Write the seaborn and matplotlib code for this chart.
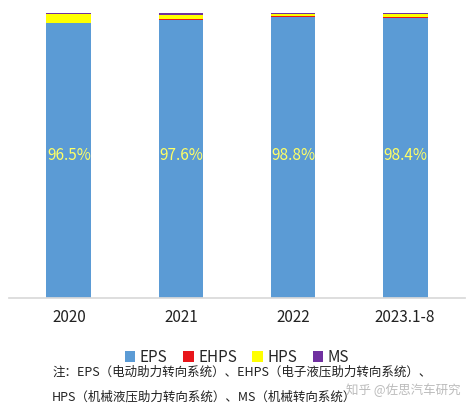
import matplotlib
matplotlib.use("Agg")
import matplotlib.pyplot as plt
import seaborn as sns
import pandas as pd
import numpy as np

years = ["2020", "2021", "2022", "2023.1-8"]
eps = [96.5, 97.6, 98.8, 98.4]
ehps = [0.2, 0.2, 0.2, 0.2]
hps = [3.1, 1.6, 0.8, 1.2]
ms = [0.2, 0.6, 0.2, 0.2]
series = ["EPS", "EHPS", "HPS", "MS"]
colors = ["#5b9bd5", "#e8161b", "#ffff00", "#7030a0"]

sns.set_theme(style="white")
plt.rcParams['font.family'] = ['Noto Sans CJK SC', 'DejaVu Sans']

fig = plt.figure(figsize=(4.74, 4.13), dpi=100)
ax = fig.add_axes([0.02, 0.278, 0.96, 0.69])
df = pd.DataFrame({"year": years, "EPS": eps, "EHPS": ehps, "HPS": hps, "MS": ms})
bottom = np.zeros(len(years))
for s, c in zip(series, colors):
    sns.barplot(x="year", y=s, data=df, ax=ax, color=c, bottom=bottom, width=0.4,
                label=s, saturation=1, edgecolor="none")
    bottom += df[s].values
for i, v in enumerate(eps):
    ax.text(i, 50, f"{v}%", ha="center", va="center", color="#ffff66", fontsize=11)
ax.set_ylim(0, 100)
ax.set_xlim(-0.53, 3.53)
ax.set_yticks([])
ax.set_xlabel("")
ax.set_ylabel("")
for sp in ["top", "left", "right"]:
    ax.spines[sp].set_visible(False)
ax.spines["bottom"].set_color("#d9d9d9")
ax.tick_params(axis="x", labelsize=11, colors="#222222", length=0, pad=8)
ax.legend(loc="upper center", bbox_to_anchor=(0.5, -0.13), ncol=4, frameon=False,
          fontsize=11, handlelength=0.7, handleheight=0.7, columnspacing=1.0, handletextpad=0.3)
fig.text(0.11, 0.09, "注：EPS（电动助力转向系统）、EHPS（电子液压助力转向系统）、", fontsize=9, style="italic", color="#222222")
fig.text(0.11, 0.03, "HPS（机械液压助力转向系统）、MS（机械转向系统）", fontsize=9, style="italic", color="#222222")
fig.text(0.73, 0.045, "知乎 @佐思汽车研究", fontsize=9, color="#bbbbbb")
fig.savefig("out.png", dpi=100)
